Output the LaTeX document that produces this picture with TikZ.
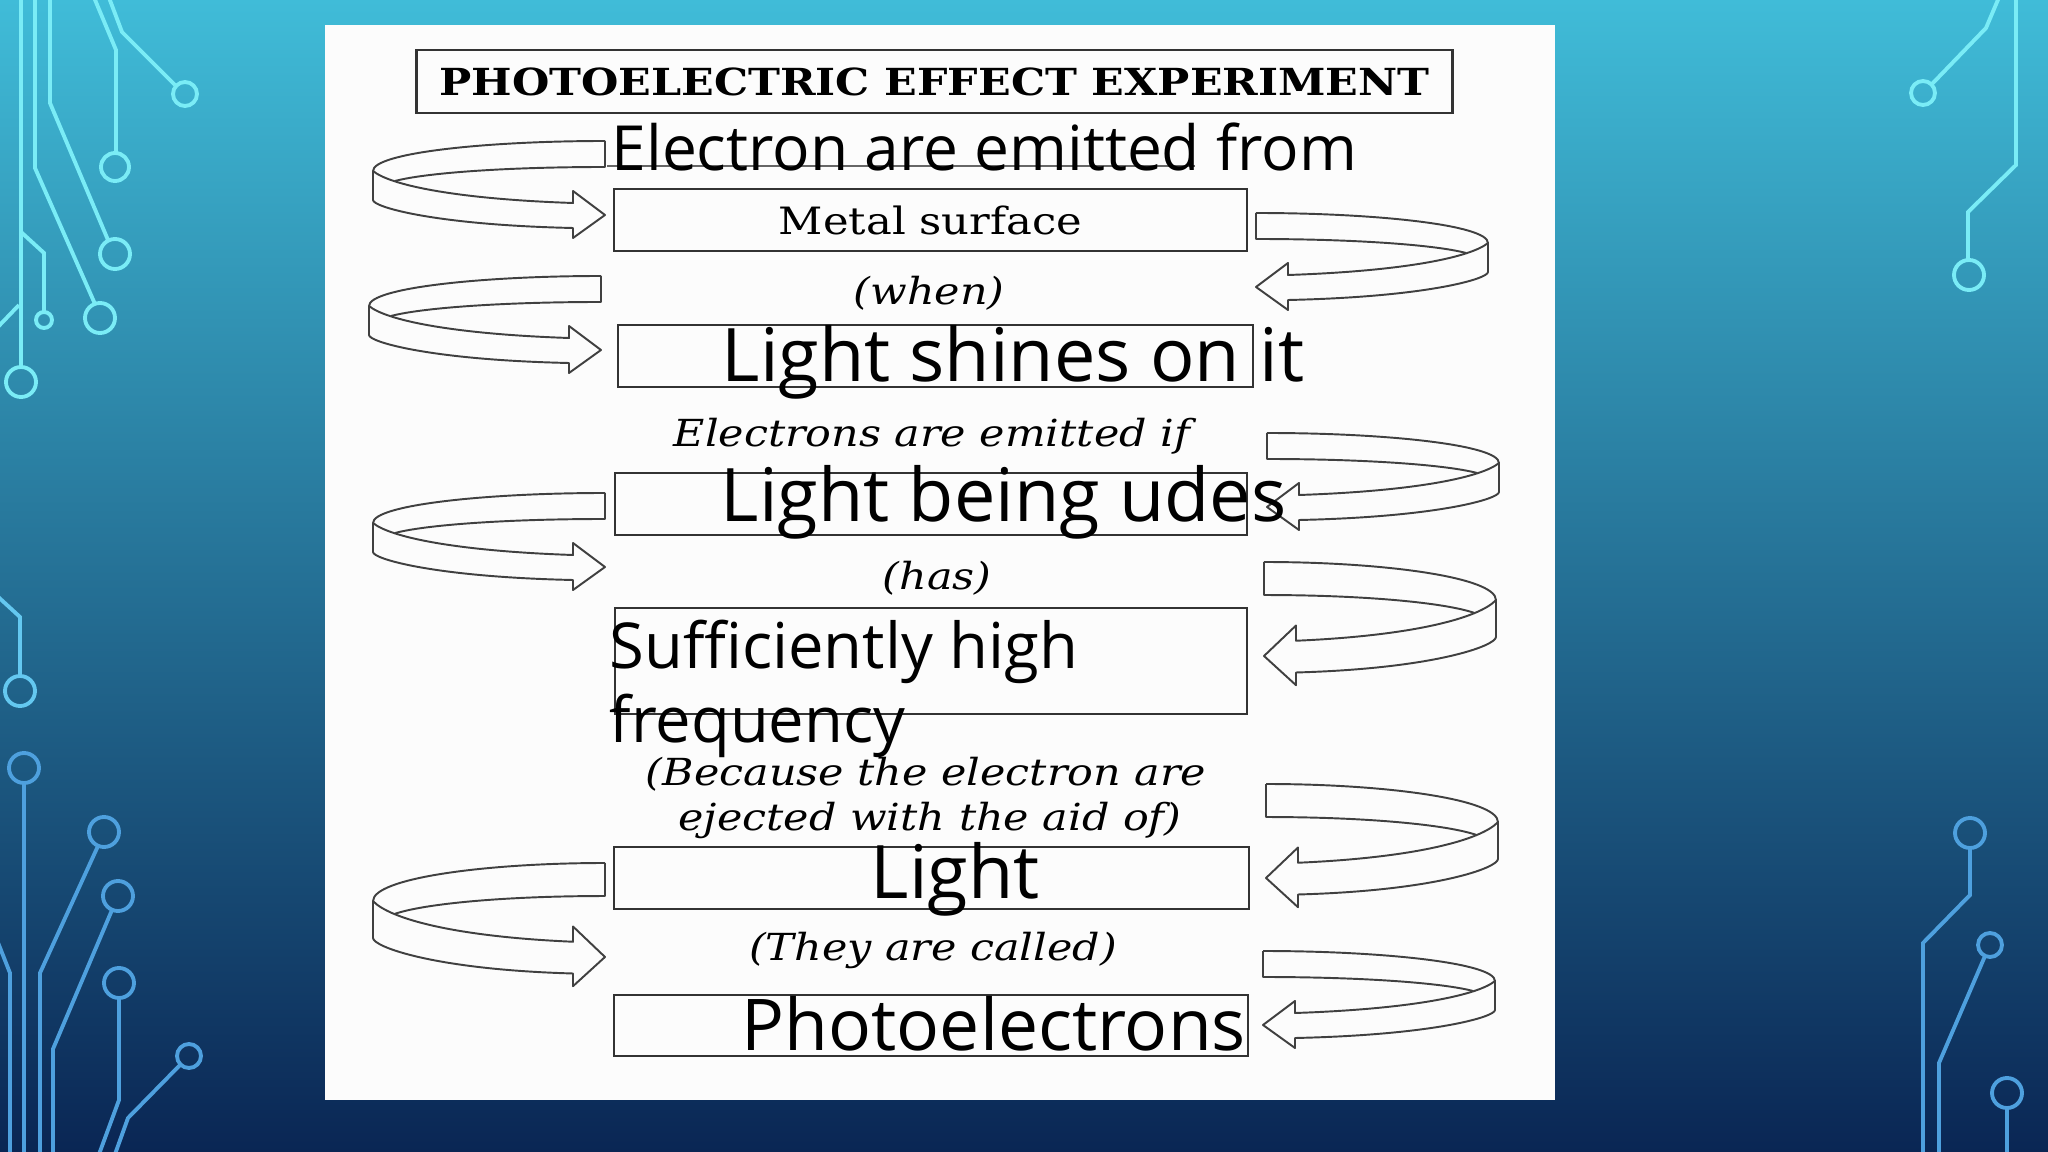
\documentclass[tikz,border=0pt]{standalone}
\usepackage{fontspec}
\usepackage{tikz}
\usetikzlibrary{positioning}
\newfontfamily\boxfont{Open Sans}
\newfontfamily\slabfont[FakeStretch=1.15]{DejaVu Serif}
\definecolor{skytop}{RGB}{64,188,216}
\definecolor{skymid}{RGB}{36,126,172}
\definecolor{skybot}{RGB}{10,38,84}
\definecolor{wirecyan}{RGB}{122,236,246}
\definecolor{wiremid}{RGB}{100,200,240}
\definecolor{wireblue}{RGB}{78,160,222}
\tikzset{wire/.style={line width=1.1pt},
rbox/.style={draw=black!80, line width=0.6pt, minimum width=6.33cm, minimum height=0.62cm, inner sep=0pt},
ribbon/.style={draw=black!75, line width=0.55pt, line join=round},
bigtext/.style={font=\boxfont\fontsize{21}{24}\selectfont, inner sep=0pt},
slabtext/.style={font=\slabfont\itshape\fontsize{10.6}{12}\selectfont, inner sep=0pt}}
%U-turn ribbon arrow: tail corner, xscale, yscale
\newcommand{\ribbonarrow}[3]{%
 \begin{scope}[shift={#1}, xscale=#2, yscale=#3]
 \draw[ribbon] (0,0) .. controls (-120,0) and (-232,12) .. (-232,30)
   -- (-232,59) .. controls (-232,66) and (-170,84) .. (-32,87)
   -- (-32,97) -- (0,74) -- (-32,50) -- (-32,62)
   .. controls (-150,58) and (-215,44) .. (-232,30);
 \draw[ribbon] (0,0) -- (0,26) .. controls (-100,26) and (-180,32) .. (-210,40);
 \end{scope}}

\begin{document}
\begin{tikzpicture}[x=0.01cm,y=-0.01cm]
 \useasboundingbox (0,0) rectangle (2048,1152);
 \clip (0,0) rectangle (2048,1152);
 %Drawing Background
 \shade[top color=skytop, middle color=skymid, bottom color=skybot] (0,0) rectangle (2048,1152);

 %Left wires
 \begin{scope}[wirecyan, wire]
 \draw (21,-5) -- (21,367);
 \draw (21,382) circle[radius=15];
 \draw (21,232) -- (44,253) -- (44,312);
 \draw (44,320) circle[radius=8];
 \draw (19,305) -- (-5,330);
 \draw (35,-5) -- (35,168) -- (95,304);
 \draw (100,318) circle[radius=15];
 \draw (50,-5) -- (50,103) -- (108,240);
 \draw (115,254) circle[radius=15];
 \draw (93,-5) -- (116,50) -- (116,153);
 \draw (115,167) circle[radius=14];
 \draw (108,-5) -- (122,32) -- (175,85);
 \draw (185,94) circle[radius=12];
 \end{scope}
 \begin{scope}[wiremid, wire]
 \draw (-5,594) -- (20,617) -- (20,675);
 \draw (20,691) circle[radius=15];
 \end{scope}
 \begin{scope}[wireblue, wire]
 \draw (24,768) circle[radius=15];
 \draw (24,783) -- (24,1157);
 \draw (104,832) circle[radius=15];
 \draw (98,846) -- (40,973) -- (40,1157);
 \draw (118,896) circle[radius=15];
 \draw (112,910) -- (53,1049) -- (53,1157);
 \draw (119,983) circle[radius=15];
 \draw (119,998) -- (119,1100) -- (98,1157);
 \draw (189,1056) circle[radius=12];
 \draw (181,1064) -- (128,1118) -- (114,1157);
 \draw (-5,935) -- (10,973) -- (10,1157);
 \end{scope}

 %Right wires
 \begin{scope}[wirecyan, wire]
 \draw (2000,-5) -- (1986,28) -- (1932,84);
 \draw (1923,93) circle[radius=12];
 \draw (2016,-5) -- (2016,165) -- (1968,212) -- (1968,260);
 \draw (1969,275) circle[radius=15];
 \end{scope}
 \begin{scope}[wireblue, wire]
 \draw (1970,833) circle[radius=15];
 \draw (1970,848) -- (1970,895) -- (1923,943) -- (1923,1157);
 \draw (1990,945) circle[radius=12];
 \draw (1985,956) -- (1939,1063) -- (1939,1157);
 \draw (2007,1093) circle[radius=15];
 \draw (2007,1108) -- (2007,1157);
 \end{scope}

 %White panel
 \fill[white!99!black] (325,25) rectangle (1555,1100);

 \node[draw=black!80, line width=0.8pt, minimum width=10.35cm, minimum height=0.63cm, inner sep=0pt,
   font=\slabfont\bfseries\fontsize{10.6}{12}\selectfont] (titlebox) at (934.5,81.5) {PHOTOELECTRIC EFFECT EXPERIMENT};

 %Boxes
 \node[rbox, font=\slabfont\fontsize{10.7}{12}\selectfont] (metal) at (930.5,220) {Metal surface};
 \node[rbox, minimum width=6.35cm] (shines) at (935.5,356) {};
 \node[rbox, minimum width=6.32cm] (being) at (931,504) {};
 \node[rbox, minimum width=6.32cm, minimum height=1.06cm] (freq) at (931,661) {};
 \node[rbox, minimum width=6.35cm] (light) at (931.5,878) {};
 \node[rbox, minimum width=6.34cm, minimum height=0.61cm] (photo) at (931,1025.5) {};

 %Italic links
 \node[slabtext, anchor=base] (when) at (929,305) {(when)};
 \node[slabtext, anchor=base] (emitif) at (932,447) {Electrons are emitted if};
 \node[slabtext, anchor=base] (has) at (937,590) {(has)};
 \node[slabtext, anchor=base] (because) at (926,785) {(Because the electron are};
 \node[slabtext, anchor=base] (aid) at (930,830) {ejected with the aid of)};
 \node[slabtext, anchor=base] (called) at (933,960) {(They are called)};

 %Ribbon arrows
 \ribbonarrow{(605,141)}{1}{1}
 \ribbonarrow{(601,276)}{1}{1}
 \ribbonarrow{(605,493)}{1}{1}
 \ribbonarrow{(605,863)}{1}{1.27}
 \ribbonarrow{(1256,213)}{-1}{1}
 \ribbonarrow{(1267,433)}{-1}{1}
 \ribbonarrow{(1264,562)}{-1}{1.27}
 \ribbonarrow{(1266,784)}{-1}{1.27}
 \ribbonarrow{(1263,951)}{-1}{1}

 \draw[black!60, line width=0.5pt] (607,166) -- (1195,166);

 %Overlaid text
 \node[bigtext, font=\boxfont\fontsize{17.7}{22}\selectfont, anchor=base west] (emitted) at (611,171) {Electron are emitted from};
 \node[bigtext, anchor=base west] (shinestext) at (721,382) {Light shines on it};
 \node[bigtext, anchor=base west] (beingtext) at (720,522) {Light being udes};
 \node[bigtext, font=\boxfont\fontsize{18}{20}\selectfont, anchor=base west] (freqtext) at (609,669) {Sufficiently high};
 \node[bigtext, font=\boxfont\fontsize{18}{20}\selectfont, anchor=base west] (freqtext2) at (609,742) {frequency};
 \node[bigtext, anchor=base west] (lighttext) at (870,898) {Light};
 \node[bigtext, font=\boxfont\fontsize{20.3}{24}\selectfont, anchor=base west] (phototext) at (741,1050) {Photoelectrons};
\end{tikzpicture}
\end{document}
